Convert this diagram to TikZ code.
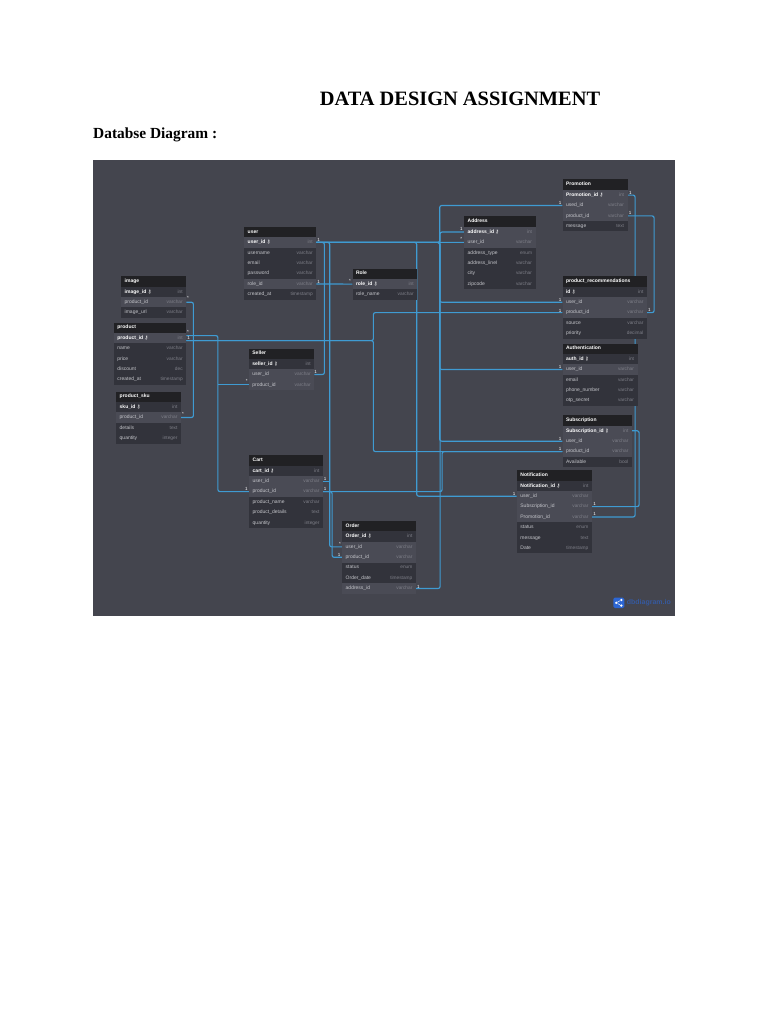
\documentclass[tikz,border=0pt]{standalone}
\usepackage{fontspec}
\setmainfont{Liberation Serif}
\newfontfamily\dbfont{Liberation Sans}
\newfontfamily\keyfont{DejaVu Sans}
\usetikzlibrary{backgrounds}
\definecolor{panelbg}{HTML}{44454E}
\definecolor{headbg}{HTML}{212124}
\definecolor{darkbg}{HTML}{32333B}
\definecolor{litebg}{HTML}{4A4B55}
\definecolor{relblue}{HTML}{3F9BD2}
\definecolor{typegray}{HTML}{7E7F88}
\definecolor{fieldgray}{HTML}{C4C5CA}
\definecolor{logoblue}{HTML}{2C66D4}
\tikzset{
  darkrow/.style={fill=darkbg,inner sep=0pt,minimum height=10.4pt},
  literow/.style={fill=litebg,inner sep=0pt,minimum height=10.4pt},
  headrow/.style={fill=headbg,inner sep=0pt,minimum height=10.4pt},
  headtxt/.style={text=white,inner sep=0pt,text height=3.6pt,text depth=1.1pt,font=\dbfont\bfseries\fontsize{5pt}{6pt}\selectfont},
  fieldtxt/.style={text=fieldgray,inner sep=0pt,text height=3.6pt,text depth=1.1pt,font=\dbfont\fontsize{5pt}{6pt}\selectfont},
  typetxt/.style={text=typegray,inner sep=0pt,text height=3.6pt,text depth=1.1pt,font=\dbfont\fontsize{4.8pt}{6pt}\selectfont},
  card/.style={text=white,inner sep=0pt,font=\dbfont\fontsize{4.5pt}{5pt}\selectfont},
  rel/.style={draw=relblue,line width=1.15pt,rounded corners=2pt},
}
% one id row: white and bold, with the key mark
\newcommand{\pk}[1]{\textcolor{white}{\bfseries #1 {\keyfont\fontsize{5pt}{5pt}\selectfont ⚷}}}
% x, y of top left corner, width, name, title, rows
\newcommand{\erdtable}[6]{
  \node[headrow,anchor=north west,minimum width=#3pt] (#4) at (#1,#2) {};
  \node[headtxt,anchor=west] (#4txt) at ([xshift=3.5pt]#4.west) {#5};
  \foreach \rid/\rstyle/\rfield/\rtype [count=\i] in {#6} {
    \node[\rstyle,anchor=north west,minimum width=#3pt] (\rid) at ({#1},{#2+\i*10.4}) {};
    \node[fieldtxt,anchor=west] (\rid f) at ([xshift=3.5pt]\rid.west) {\rfield};
    \node[typetxt,anchor=east] (\rid t) at ([xshift=-3.5pt]\rid.east) {\rtype};
  }
}
\begin{document}
\begin{tikzpicture}[x=1pt,y=-1pt]
\useasboundingbox (0,0) rectangle (768,1024);

\node[inner sep=0pt,font=\bfseries\fontsize{20.4pt}{23pt}\selectfont] (doctitle) at (460,99) {DATA DESIGN ASSIGNMENT};
\node[inner sep=0pt,anchor=west,font=\bfseries\fontsize{15.4pt}{18pt}\selectfont] (subtitle) at (93,135) {Databse Diagram :};

% tables
\erdtable{244}{226.6}{72}{user}{user}{
  userid/literow/\pk{user\_id}/int,
  username/darkrow/username/varchar,
  useremail/darkrow/email/varchar,
  userpass/darkrow/password/varchar,
  userrole/literow/role\_id/varchar,
  usercreated/darkrow/created\_at/timestamp}
\erdtable{121}{276}{65}{image}{image}{
  imgid/darkrow/\pk{image\_id}/int,
  imgproduct/literow/product\_id/varchar,
  imgurl/darkrow/image\_url/varchar}
\erdtable{113.7}{322.3}{72.3}{product}{product}{
  prodid/literow/\pk{product\_id}/int,
  prodname/darkrow/name/varchar,
  prodprice/darkrow/price/varchar,
  proddisc/darkrow/discount/dec,
  prodcreated/darkrow/created\_at/timestamp}
\erdtable{116}{391.3}{64.7}{sku}{product\_sku}{
  skuid/darkrow/\pk{sku\_id}/int,
  skuproduct/literow/product\_id/varchar,
  skudetails/darkrow/details/text,
  skuqty/darkrow/quantity/integer}
\erdtable{248.7}{348.3}{65.3}{seller}{Seller}{
  sellerid/darkrow/\pk{seller\_id}/int,
  selleruser/literow/user\_id/varchar,
  sellerproduct/literow/product\_id/varchar}
\erdtable{352.3}{268.3}{64.7}{role}{Role}{
  roleid/literow/\pk{role\_id}/int,
  rolename/darkrow/role\_name/varchar}
\erdtable{464}{216.2}{71.3}{address}{Address}{
  addid/literow/\pk{address\_id}/int,
  adduser/literow/user\_id/varchar,
  addtype/darkrow/address\_type/enum,
  addline/darkrow/address\_lineI/varchar,
  addcity/darkrow/city/varchar,
  addzip/darkrow/zipcode/varchar}
\erdtable{562.3}{179.3}{65}{promo}{Promotion}{
  promoid/literow/\pk{Promotion\_id}/int,
  promouser/literow/used\_id/varchar,
  promoproduct/literow/product\_id/varchar,
  promomsg/darkrow/message/text}
\erdtable{562.3}{276}{84.4}{rec}{product\_recommendations}{
  recid/darkrow/\pk{id}/int,
  recuser/literow/user\_id/varchar,
  recproduct/literow/product\_id/varchar,
  recsource/darkrow/source/varchar,
  recprio/darkrow/priority/decimal}
\erdtable{562.3}{343.3}{75}{auth}{Authentication}{
  authid/darkrow/\pk{auth\_id}/int,
  authuser/literow/user\_id/varchar,
  authmail/darkrow/email/varchar,
  authphone/darkrow/phone\_number/varchar,
  authotp/darkrow/otp\_secret/varchar}
\erdtable{562.3}{415}{69.4}{sub}{Subscription}{
  subid/literow/\pk{Subscription\_id}/int,
  subuser/literow/user\_id/varchar,
  subproduct/literow/product\_id/varchar,
  subavail/darkrow/Available/bool}
\erdtable{516.7}{470}{75}{notif}{Notification}{
  notifid/darkrow/\pk{Notification\_id}/int,
  notifuser/literow/user\_id/varchar,
  notifsub/literow/Subscription\_id/varchar,
  notifpromo/literow/Promotion\_id/varchar,
  notifstatus/darkrow/status/enum,
  notifmsg/darkrow/message/text,
  notifdate/darkrow/Date/timestamp}
\erdtable{249}{455}{73.7}{cart}{Cart}{
  cartid/darkrow/\pk{cart\_id}/int,
  cartuser/literow/user\_id/varchar,
  cartproduct/literow/product\_id/varchar,
  cartname/darkrow/product\_name/varchar,
  cartdetails/darkrow/product\_details/text,
  cartqty/darkrow/quantity/integer}
\erdtable{342}{520.7}{73.7}{order}{Order}{
  orderid/darkrow/\pk{Order\_id}/int,
  orderuser/literow/user\_id/varchar,
  orderproduct/literow/product\_id/varchar,
  orderstatus/darkrow/status/enum,
  orderdate/darkrow/Order\_date/timestamp,
  orderaddr/literow/address\_id/varchar}

% 1 and * marks at the ends of the lines
\foreach \cname/\cx/\cy/\ctxt in {
  ca/188/298.3/*, cb/183/414/*, cc/188/331.7/*, cd/188.7/338.3/1,
  ce/318.7/240/1, cf/318.7/282/1, cg/350/280.7/*, ch/315.7/372/1,
  ci/246.7/381.3/*, cj/630.3/193.3/1, ck/560/203.3/1, cl/630/213.3/1,
  cm/461.3/229.3/1, cn/461.3/238.7/*, co/560/300/1, cp/560/310.7/1,
  cq/649.3/310/1, cr/560/366.7/1, cs/560/439/1, ct/560/449.3/1,
  cu/514/494/1, cv/594.7/504.3/1, cw/594.7/514.3/1, cx/246.3/489/1,
  cy/325/479.3/1, cz/325/489.3/1, da/340/544/*, db/339/554.7/1,
  dc/418.3/586.7/1}
  \node[card] (\cname) at (\cx,\cy) {\ctxt};

% logo
\node[fill=logoblue,rounded corners=1.5pt,minimum width=11pt,minimum height=10.4pt,inner sep=0pt] (logo) at (618.8,602.8) {};
\node[circle,fill=white,inner sep=0pt,minimum size=2.6pt] (logoa) at (616.3,602.8) {};
\node[circle,fill=white,inner sep=0pt,minimum size=2.6pt] (logob) at (621.3,600) {};
\node[circle,fill=white,inner sep=0pt,minimum size=2.6pt] (logoc) at (621.3,605.6) {};
\draw[white,line width=.5pt] (logob) -- (logoa) -- (logoc);
\node[anchor=west,inner sep=0pt,text=logoblue!60!panelbg,font=\dbfont\bfseries\fontsize{7pt}{9pt}\selectfont] (logotxt) at (626.7,603) {dbdiagram.io};

\begin{scope}[on background layer]
\fill[panelbg] (93,160) rectangle (675,616);
% relations
\draw[rel] (imgproduct.east) -- ++(7,0) |- (skuproduct.east);
\draw[rel] ([yshift=2.5pt]prodid.east) -- ++(31.5,0) |- (cartproduct.west);
\draw[rel] (sellerproduct.west) -- ++(-31.2,0);
\draw[rel] ([yshift=-2.5pt]prodid.east) -- ++(187,0) |- (recproduct.west);
\draw[rel] ([yshift=-2.5pt]prodid.east) -- ++(187,0) |- (subproduct.west);
\draw[rel] (userrole.east) -- (roleid.west);
\draw[rel] (userid.east) -- ++(8,0) |- (selleruser.east);
\draw[rel] (userid.east) -- ++(13.3,0) |- (orderuser.west);
\draw[rel] (cartuser.east) -- ++(6.6,0);
\draw[rel] (userid.east) -- (adduser.west);
\draw[rel] (userid.east) -- ++(123.3,0) |- (promouser.west);
\draw[rel] (userid.east) -- ++(123.3,0) |- (recuser.west);
\draw[rel] (userid.east) -- ++(123.3,0) |- (authuser.west);
\draw[rel] (userid.east) -- ++(123.3,0) |- (subuser.west);
\draw[rel] (userid.east) -- ++(100.3,0) |- (notifuser.west);
\draw[rel] (orderaddr.east) -- ++(24,0) |- (addid.west);
\draw[rel] (cartproduct.east) -- ++(119,0) |- (subproduct.west);
\draw[rel] (cartproduct.east) -- ++(9,0) |- (orderproduct.west);
\draw[rel] (promoid.east) -- ++(7.4,0) |- (notifpromo.east);
\draw[rel] (subid.east) -- ++(7,0) |- (notifsub.east);
\draw[rel] (promoproduct.east) -- ++(26.4,0) |- (recproduct.east);
\end{scope}
\end{tikzpicture}
\end{document}
